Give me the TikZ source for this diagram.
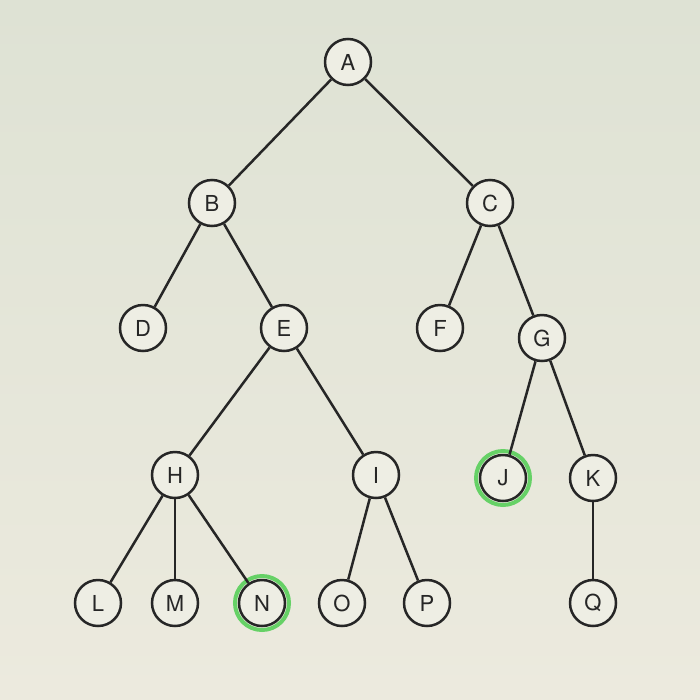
\documentclass[tikz,border=0pt]{standalone}
\usepackage{fontspec}
\setmainfont{TeX Gyre Heros}
\begin{document}
\begin{tikzpicture}[x=1pt,y=-1pt,
  tn/.style={circle,draw=black!85,line width=2.5pt,minimum size=46pt,inner sep=0pt,font=\fontsize{22}{22}\selectfont,text=black!85,fill={rgb,255:red,238;green,238;blue,228}},
  glow/.style={tn,draw=green!70!black!60,line width=4pt,fill=none},
  ed/.style={draw=black!85,line width=2.5pt}]
\fill[top color={rgb,255:red,222;green,226;blue,212},bottom color={rgb,255:red,236;green,234;blue,222}] (0,0) rectangle (700,699);
\useasboundingbox (0,0) rectangle (700,699);
\foreach \n/\x/\y in {A/348/62,B/212/203,C/490/203,D/143/328,E/284/328,F/440/328,G/542/338,H/175/475,I/376/475,J/503/478,K/593/478,L/98/603,M/175/603,N/262/603,O/342/603,P/427/603,Q/593/603}
  \node[tn] (\n) at (\x,\y) {\n};
\node[glow,minimum size=54pt] (Jg) at (J) {};
\node[glow,minimum size=54pt] (Ng) at (N) {};
\foreach \a/\b in {A/B,A/C,B/D,B/E,C/F,C/G,E/H,E/I,G/J,G/K,H/L,H/M,H/N,I/O,I/P,K/Q}
  \draw[ed] (\a) -- (\b);
\end{tikzpicture}
\end{document}
